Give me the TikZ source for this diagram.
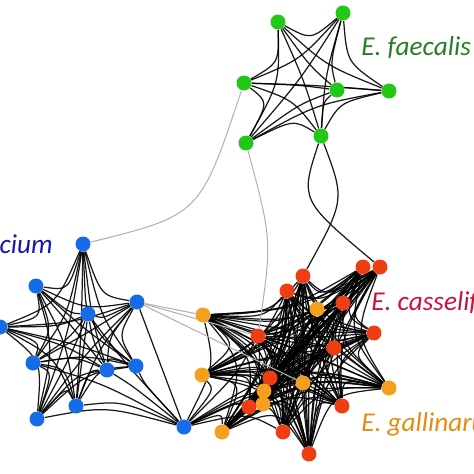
\documentclass[tikz,border=0pt]{standalone}
\usepackage{fontspec}
\setmainfont{Carlito}
\usetikzlibrary{calc}
\pgfdeclarelayer{bg}
\pgfsetlayers{bg,main}
\definecolor{ngreen}{RGB}{34,200,24}
\definecolor{nblue}{RGB}{22,108,232}
\definecolor{nred}{RGB}{240,62,20}
\definecolor{norange}{RGB}{244,160,30}
\definecolor{tgreen}{RGB}{40,125,40}
\definecolor{tblue}{RGB}{24,24,170}
\definecolor{tred}{RGB}{200,20,60}
\definecolor{torange}{RGB}{228,140,20}
\tikzset{
  dot/.style={circle,inner sep=0pt,minimum size=0.3cm},
  gn/.style={dot,fill=ngreen},
  bn/.style={dot,fill=nblue},
  rn/.style={dot,fill=nred},
  on/.style={dot,fill=norange},
  edge/.style={black,line width=0.7pt,opacity=0.9},
  gedge/.style={gray!60,line width=0.6pt},
  lbl/.style={font=\fontsize{15.5}{18}\selectfont\itshape,inner sep=0pt}
}
\newcommand\clusteredges[4]{%
  \foreach \a [count=\i] in {#1} {
    \foreach \b [count=\j] in {#1} {
      \ifnum\j>\i\relax
        \draw[edge] (\a) .. controls ($#3*(#2)+#4*(\a)+#4*(\b)$) .. (\b);
      \fi
    }
  }%
}
\newcommand\fanedges[5]{%
  \foreach \b in {#2} {
    \draw[edge] (#1) .. controls ($#4*(#3)+#5*(#1)+#5*(\b)$) .. (\b);
  }%
}
\begin{document}
\begin{tikzpicture}[x=0.02cm,y=-0.02cm]
\useasboundingbox (0,0) rectangle (474,474);
\clip (0,0) rectangle (474,474);
% cluster centres
\coordinate (cg) at (312,82);
\coordinate (cb) at (85,338);
\coordinate (cr) at (300,345);
% green
\node[gn] (g1) at (278,22) {};
\node[gn] (g2) at (343,13) {};
\node[gn] (g3) at (244,83) {};
\node[gn] (g4) at (337,90) {};
\node[gn] (g5) at (389,91) {};
\node[gn] (g6) at (246,143) {};
\node[gn] (g7) at (321,136) {};
% blue
\node[bn] (b1) at (83,244) {};
\node[bn] (b2) at (36,286) {};
\node[bn] (b3) at (88,314) {};
\node[bn] (b4) at (137,302) {};
\node[bn] (b5) at (0,327) {};
\node[bn] (b6) at (33,363) {};
\node[bn] (b7) at (107,370) {};
\node[bn] (b8) at (136,366) {};
\node[bn] (b9) at (76,406) {};
\node[bn] (b10) at (37,419) {};
\node[bn] (b11) at (184,427) {};
% red / orange
\node[rn] (r1) at (303,276) {};
\node[rn] (r2) at (363,267) {};
\node[rn] (r3) at (380,267) {};
\node[rn] (r4) at (287,291) {};
\node[on] (o1) at (317,309) {};
\node[rn] (r5) at (343,303) {};
\node[on] (o2) at (203,315) {};
\node[rn] (r6) at (374,333) {};
\node[rn] (r7) at (258,336) {};
\node[rn] (r8) at (334,348) {};
\node[on] (o3) at (202,375) {};
\node[rn] (r9) at (270,378) {};
\node[on] (o4) at (303,383) {};
\node[on] (o5) at (264,391) {};
\node[on] (o6) at (263,404) {};
\node[rn] (r10) at (249,407) {};
\node[on] (o7) at (389,388) {};
\node[rn] (r11) at (342,406) {};
\node[on] (o8) at (222,432) {};
\node[rn] (r12) at (283,432) {};
\node[rn] (r13) at (309,454) {};
% labels
\node[lbl,text=tgreen,anchor=west] (lf) at (361,48) {E. faecalis};
\node[lbl,text=tblue,anchor=east] (lm) at (53,246) {E. faecium};
\node[lbl,text=tred,anchor=west] (lc) at (371,303) {E. casseliflavus};
\node[lbl,text=torange,anchor=west] (lg) at (361,424) {E. gallinarum};
\begin{pgfonlayer}{bg}
\clusteredges{g1,g2,g3,g4,g5,g6,g7}{cg}{0.35}{0.325}
\clusteredges{b1,b2,b3,b4,b5,b6,b7,b8,b9,b10}{cb}{0.35}{0.325}
\clusteredges{r1,r2,r3,r4,o1,r5,o2,r6,r7,r8,o3,r9,o4,o5,o6,r10,o7,r11,o8,r12,r13}{cr}{0.35}{0.325}
\fanedges{b11}{b3,b6,b7,b8,b9,b10}{cb}{0.2}{0.4}
\fanedges{b11}{o2,o3,r7,r9,o5,o6,r10,o8,r12,o4}{cr}{0.2}{0.4}
\draw[edge] (b4) -- (b11);
\draw[edge] (g7) .. controls (345,200) .. (r1);
\draw[edge] (g7) .. controls (300,200) .. (r3);
\draw[gedge] (b1) .. controls (200,215) .. (g3);
\draw[gedge] (g6) .. controls (272,240) .. (r7);
\draw[gedge] (b4) -- (o2);
\draw[gedge] (b4) -- (r7);
\draw[gedge] (b4) -- (o4);
\end{pgfonlayer}
\end{tikzpicture}
\end{document}
